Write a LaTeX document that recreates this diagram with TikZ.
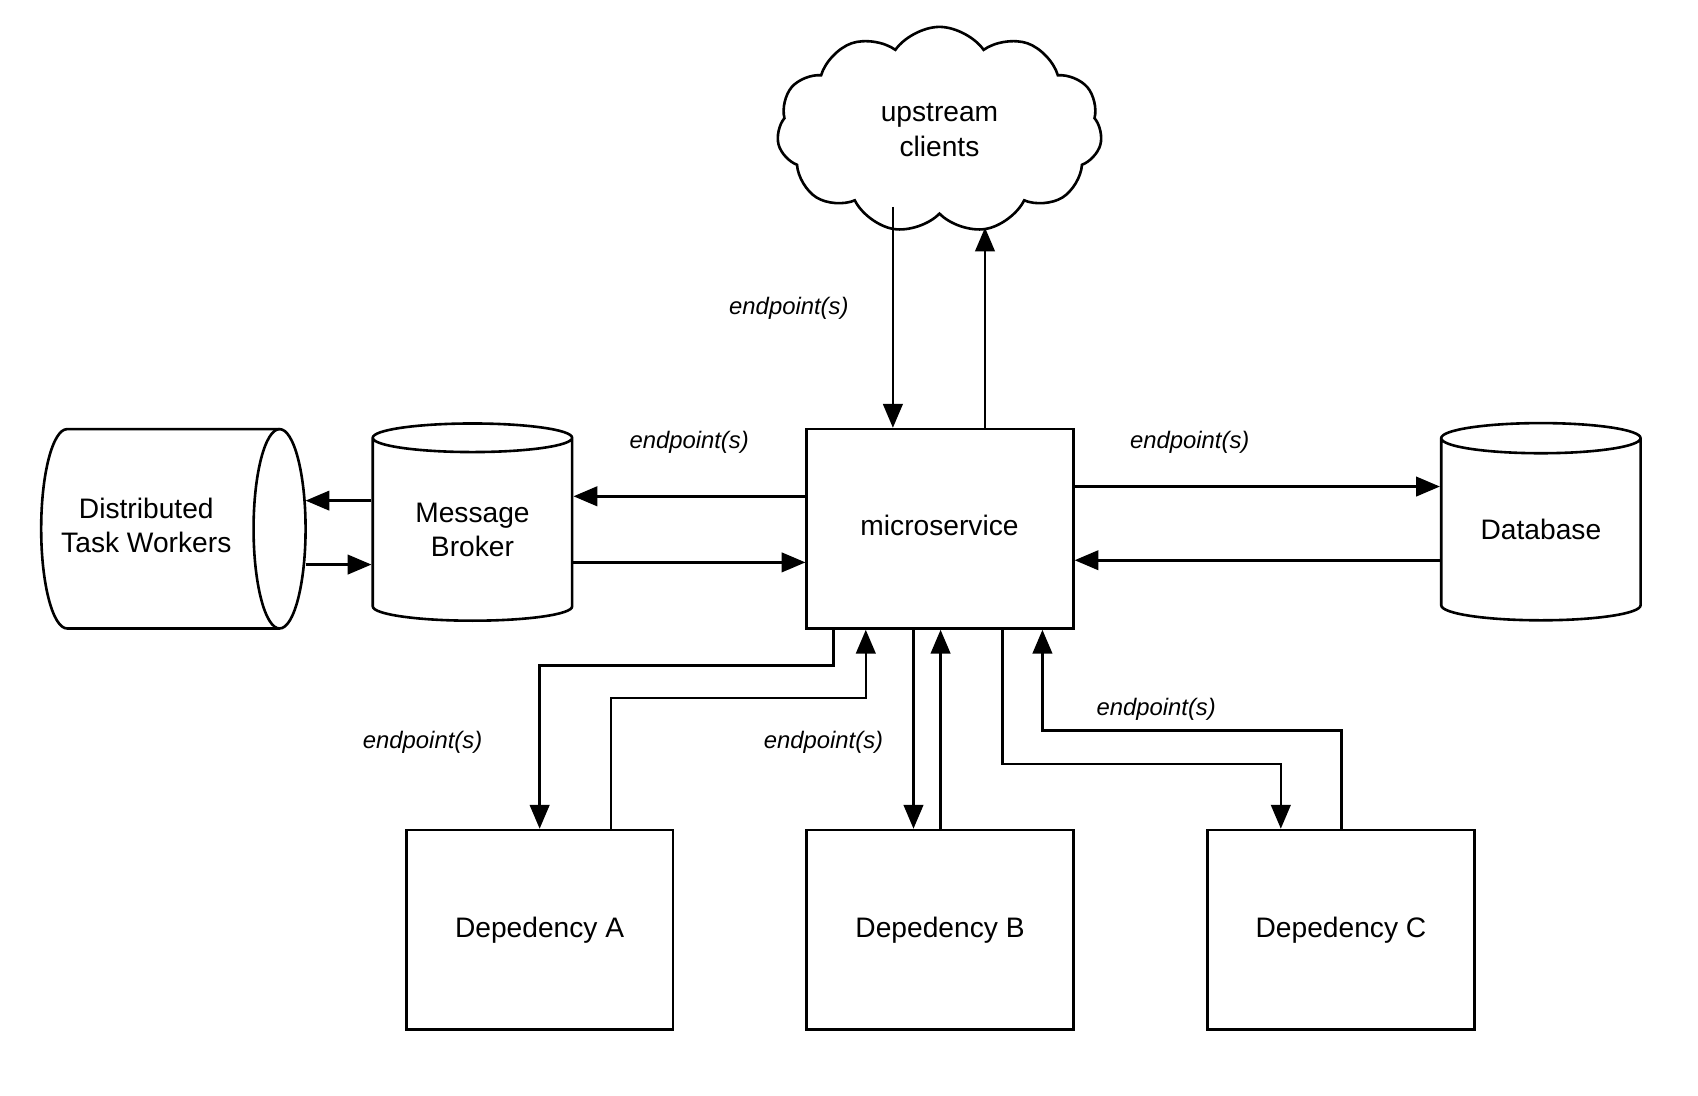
\documentclass[tikz,border=0pt]{standalone}
\usepackage{fontspec}
\setmainfont{Liberation Sans}
\usetikzlibrary{shapes.geometric,shapes.symbols,arrows.meta}
\begin{document}
\begin{tikzpicture}[x=0.5pt,y=-0.5pt,line width=1.2pt,
  box/.style={draw,rectangle,minimum width=123pt,minimum height=92pt,font=\fontsize{13}{15}\selectfont,inner sep=0pt},
  cyl/.style={draw,cylinder,shape border rotate=90,aspect=0.25,minimum width=92pt,minimum height=91pt,font=\fontsize{13}{16}\selectfont,align=center,inner sep=0pt},
  lbl/.style={font=\fontsize{11}{13}\selectfont\itshape},
  arr/.style={-{Triangle[length=11pt,width=9pt]}}]
\useasboundingbox (0,0) rectangle (1567,1011);
\node[draw,cloud,cloud puffs=11,cloud puff arc=110,minimum width=150pt,minimum height=94pt,align=center,font=\fontsize{13}{16}\selectfont] (cl) at (867,120) {upstream\\clients};
\node[box] (ms) at (867.5,488) {};
\node[font=\fontsize{13}{15}\selectfont] (mst) at (867,485) {microservice};
\node[cyl] (mb) at (436,489) {Message\\Broker};
\node[cyl] (db) at (1422,489) {Database};
% task workers: horizontal cylinder
\node[minimum width=244pt,minimum height=92pt,inner sep=0pt] (tw) at (160,488) {};
\draw (258,396) -- (62,396) arc[start angle=-90,end angle=-270,x radius=24,y radius=92] -- (258,580);
\draw (258,488) ellipse[x radius=24,y radius=92];
\node[font=\fontsize{13}{16}\selectfont,align=center] (twt) at (135,485) {Distributed\\Task Workers};
\node[box] (da) at (498,858) {Depedency A};
\node[box] (dbx) at (867.5,858) {Depedency B};
\node[box] (dc) at (1237.5,858) {Depedency C};
% cloud
\draw[arr] (cl.south -| 824,0) ++(0,-8) -- (ms.north -| 824,0);
\draw[arr] (ms.north -| 909,0) -- (909,210);
\node[lbl] (l1) at (728,285) {endpoint(s)};
% broker
\draw[arr] (ms.west |- 0,458) -- (mb.east |- 0,458);
\draw[arr] (mb.east |- 0,519) -- (ms.west |- 0,519);
\node[lbl] (l2) at (636,408) {endpoint(s)};
\draw[arr] (mb.west |- 0,462) -- (282,462);
\draw[arr] (282,521) -- (mb.west |- 0,521);
% database
\draw[arr] (ms.east |- 0,449) -- (db.west |- 0,449);
\draw[arr] (db.west |- 0,517) -- (ms.east |- 0,517);
\node[lbl] (l3) at (1098,408) {endpoint(s)};
% dependencies
\draw[arr] (ms.south -| 769,0) |- (498,614) -- (da.north -| 498,0);
\draw[arr] (da.north -| 564,0) |- (799,644) -- (ms.south -| 799,0);
\node[lbl] (l4) at (390,685) {endpoint(s)};
\draw[arr] (ms.south -| 843,0) -- (dbx.north -| 843,0);
\draw[arr] (dbx.north -| 868,0) -- (ms.south -| 868,0);
\node[lbl] (l5) at (760,685) {endpoint(s)};
\draw[arr] (ms.south -| 925,0) |- (1182,705) -- (dc.north -| 1182,0);
\draw[arr] (dc.north -| 1238,0) |- (962,674) -- (ms.south -| 962,0);
\node[lbl] (l6) at (1067,655) {endpoint(s)};
\end{tikzpicture}
\end{document}
